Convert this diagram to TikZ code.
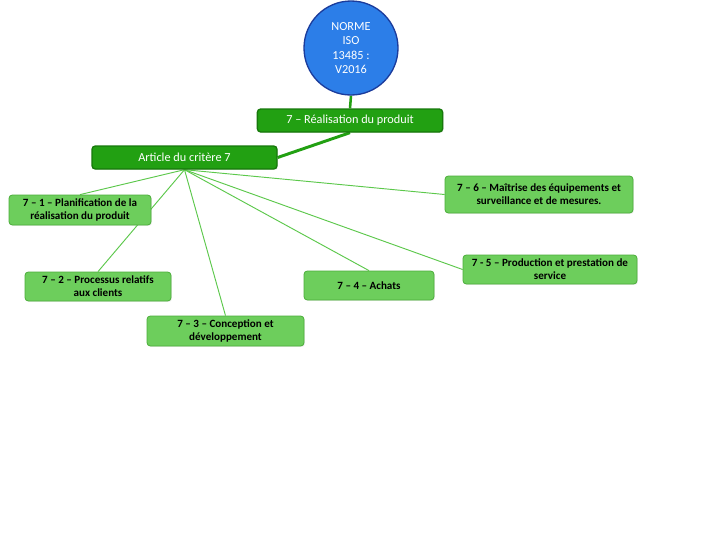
\documentclass[tikz,border=0pt]{standalone}
\usepackage{fontspec}
\setmainfont{Carlito}
\usepackage{xcolor}
\usetikzlibrary{shadows,backgrounds}
\definecolor{normefill}{HTML}{2C7EE8}
\definecolor{normedraw}{HTML}{1B3C9C}
\definecolor{mainfill}{HTML}{22A012}
\definecolor{maindraw}{HTML}{17790B}
\definecolor{itemfill}{HTML}{6DCE5C}
\definecolor{itemdraw}{HTML}{4CAE3B}
\definecolor{linkgreen}{HTML}{5CC84B}
\tikzset{
  norme/.style={
    circle,
    draw=normedraw,
    line width=1pt,
    fill=normefill,
    minimum size=70.5pt,
    inner sep=0pt,
    align=center,
    text=white,
    font=\fontsize{9.2}{10.7}\selectfont
  },
  mainbox/.style={
    rounded corners=2.5pt,
    draw=maindraw,
    line width=1pt,
    fill=mainfill,
    drop shadow={opacity=0.18, shadow xshift=0.7pt, shadow yshift=-0.7pt},
    align=center,
    text=white,
    font=\fontsize{9.2}{11}\selectfont,
    minimum width=139pt,
    minimum height=17.25pt,
    inner sep=0pt
  },
  itembox/.style={
    rounded corners=2.5pt,
    draw=itemdraw,
    line width=0.6pt,
    fill=itemfill,
    drop shadow={opacity=0.15, shadow xshift=0.7pt, shadow yshift=-0.7pt},
    align=center,
    font=\fontsize{8.3}{9.8}\selectfont\bfseries,
    inner sep=0pt
  },
  trunk/.style={line width=1.9pt, draw=mainfill},
  branch/.style={line width=0.7pt, draw=linkgreen}
}

\begin{document}
\begin{tikzpicture}[x=0.75pt,y=-0.75pt]
\path[use as bounding box] (0,0) rectangle (720,540);

\node[norme] (norme) at (351,48) {NORME\\ISO\\13485 :\\V2016};

\node[mainbox] (real) at (350,120.5) {7 -- Réalisation du produit};
\node[mainbox, minimum width=138.75pt] (article) at (184.5,157.5) {Article du critère 7};

\node[itembox, minimum width=106.5pt, minimum height=22.5pt] (c1) at (80,210)
  {7 -- 1 -- Planification de la\\réalisation du produit};
\node[itembox, minimum width=109.5pt, minimum height=21.75pt] (c2) at (98,286.5)
  {7 -- 2 -- Processus relatifs\\aux clients};
\node[itembox, minimum width=117.75pt, minimum height=22.5pt] (c3) at (225.5,331)
  {7 -- 3 -- Conception et\\développement};
\node[itembox, minimum width=97.5pt, minimum height=21.75pt] (c4) at (369,285.5)
  {7 -- 4 -- Achats};
\node[itembox, minimum width=130.5pt, minimum height=21.75pt] (c5) at (550,269.5)
  {7 - 5 -- Production et prestation de\\service};
\node[itembox, minimum width=141pt, minimum height=27.75pt] (c6) at (539,194.5)
  {7 -- 6 -- Maîtrise des équipements et\\surveillance et de mesures.};

\begin{scope}[on background layer]
\fill[white] (0,0) rectangle (720,540);
\draw[trunk] (norme.south) -- (real.north);
\draw[trunk, line width=2.2pt] (real.south) -- (article.east);
\foreach \item/\side in {c1/north, c2/north, c3/north, c4/north, c5/west, c6/west}
  \draw[branch] (article.south) -- (\item.\side);
\end{scope}

\end{tikzpicture}
\end{document}
